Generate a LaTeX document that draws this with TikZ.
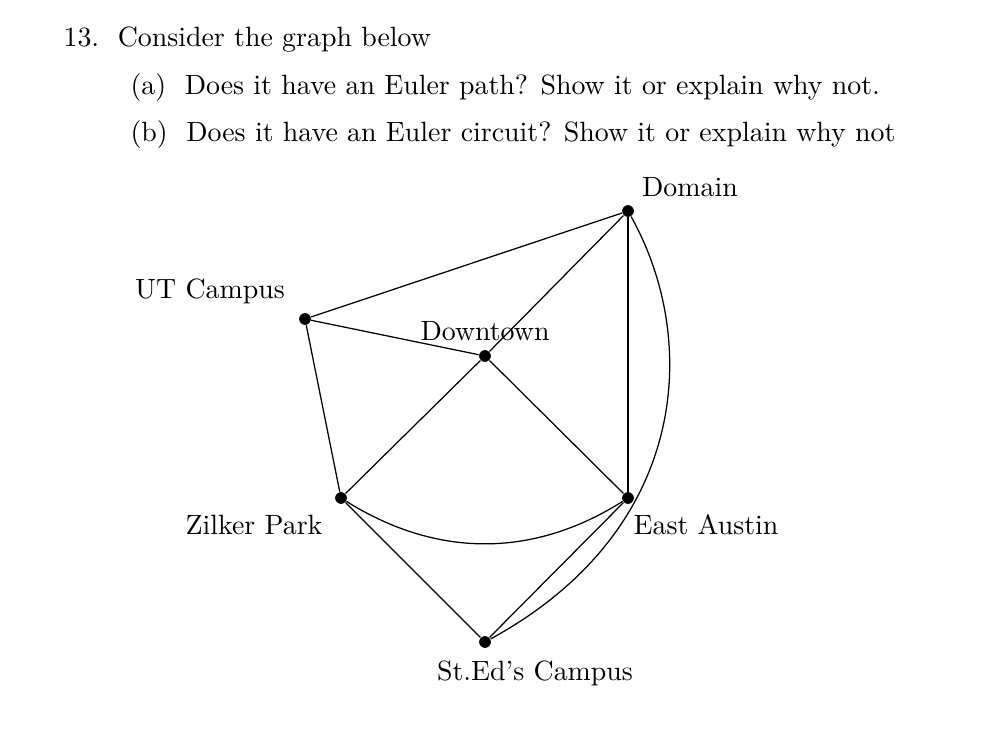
\documentclass[tikz,border=0pt]{standalone}
\begin{document}
\begin{tikzpicture}[x=0.0126cm,y=-0.0126cm,
  vtx/.style={circle,fill=black,inner sep=0pt,minimum size=4.2pt},
  lbl/.style={inner sep=0pt},
  edge/.style={line width=0.45pt}]
\useasboundingbox (0,0) rectangle (997,744);
\node[lbl,anchor=west] (t0) at (63,40) {13.\ \ Consider the graph below};
\node[lbl,anchor=west] (t1) at (130,88) {(a)\ \ Does it have an Euler path? Show it or explain why not.};
\node[lbl,anchor=west] (t2) at (130,135) {(b)\ \ Does it have an Euler circuit? Show it or explain why not};
\node[vtx] (dom) at (628,211) {};
\node[vtx] (ut) at (305,319) {};
\node[vtx] (dt) at (485,356) {};
\node[vtx] (zp) at (341,498) {};
\node[vtx] (ea) at (628,498) {};
\node[vtx] (se) at (485,642) {};
\node[lbl] (ldom) at (690,187) {Domain};
\node[lbl] (lut) at (210,291) {UT Campus};
\node[lbl] (ldt) at (485,331) {Downtown};
\node[lbl] (lzp) at (254,525) {Zilker Park};
\node[lbl] (lea) at (706,525) {East Austin};
\node[lbl] (lse) at (535,673) {St.Ed's Campus};
\draw[edge] (ut) -- (dom);
\draw[edge] (ut) -- (dt);
\draw[edge] (ut) -- (zp);
\draw[edge] (dom) -- (dt);
\draw[edge] (dom) -- (ea);
\draw[edge] (dt) -- (zp);
\draw[edge] (dt) -- (ea);
\draw[edge] (zp) -- (se);
\draw[edge] (ea) -- (se);
\draw[edge] (zp) .. controls (437,558) and (533,558) .. (ea);
\draw[edge] (dom) .. controls (700,340) and (690,530) .. (se);
\end{tikzpicture}
\end{document}
